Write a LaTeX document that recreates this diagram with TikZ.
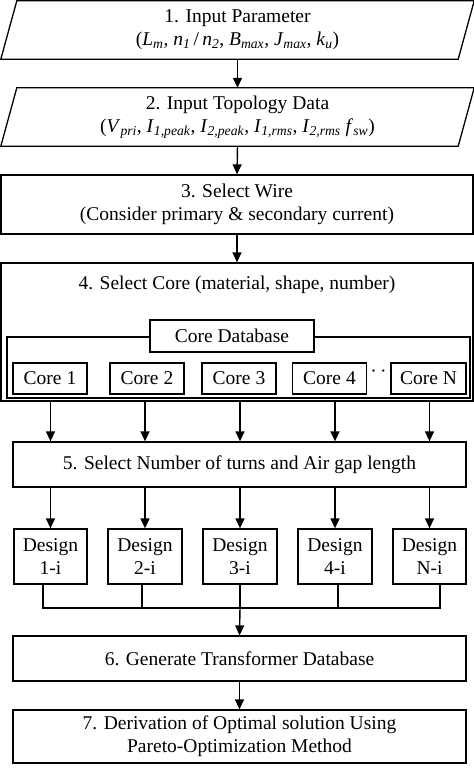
\documentclass[tikz,border=0pt]{standalone}
\usepackage{fontspec}
\setmainfont{Liberation Serif}
\usetikzlibrary{arrows.meta}

\newcommand{\varsub}[2]{\textit{#1}\textsubscript{\textit{#2}}}

\tikzset{
  stepbox/.style={draw=black, line width=1.3pt, align=center, inner sep=2pt},
  flowarrow/.style={-{Triangle[length=10pt,width=9pt]}, line width=1.4pt},
  flowline/.style={line width=1.4pt},
}

\begin{document}
\begin{tikzpicture}[x=1pt, y=-1pt, font=\fontsize{19.5}{23}\selectfont]
\useasboundingbox (0,0) rectangle (474,772);

% Input parameter
\path
(237.5,30) node [minimum width=457pt, minimum height=58pt, align=center] (param)
  {1. Input Parameter\\(\varsub{L}{m}, \varsub{n}{1}\,/\,\varsub{n}{2}, \varsub{B}{max}, \varsub{J}{max}, \varsub{k}{u})};
\draw[line width=1.3pt] ([xshift=8pt]param.north west) -- ([xshift=8pt]param.north east)
  -- ([xshift=-8pt]param.south east) -- ([xshift=-8pt]param.south west) -- cycle;

% Input topology data
\path
(237.5,117) node [minimum width=457pt, minimum height=58pt, align=center] (topo)
  {2. Input Topology Data\\(\varsub{V}{pri}, \varsub{I}{1,peak}, \varsub{I}{2,peak}, \varsub{I}{1,rms}, \varsub{I}{2,rms} \varsub{f}{sw})};
\draw[line width=1.3pt] ([xshift=8pt]topo.north west) -- ([xshift=8pt]topo.north east)
  -- ([xshift=-8pt]topo.south east) -- ([xshift=-8pt]topo.south west) -- cycle;

% Select wire
\path
(237,204.5) node [stepbox, minimum width=472pt, minimum height=59pt] (wire)
  {3. Select Wire\\(Consider primary \& secondary current)};

% Select core with the core database
\path
(237,332) node [stepbox, minimum width=472pt, minimum height=138pt] (core) {};
\path
(237,285) node (coretitle) {4. Select Core (material, shape, number)};
\path
(238.5,367.5) node [stepbox, minimum width=463pt, minimum height=61pt] (database) {};
\path
(232,336) node [stepbox, fill=white, minimum width=164pt, minimum height=32pt] (dblabel) {Core Database};

\path
(50,378.5) node [stepbox, minimum width=74pt, minimum height=31pt] (core1) {Core 1};
\path
(147,378.5) node [stepbox, minimum width=74pt, minimum height=31pt] (core2) {Core 2};
\path
(239,378.5) node [stepbox, minimum width=74pt, minimum height=31pt] (core3) {Core 3};
\path
(329.5,378.5) node [stepbox, minimum width=74pt, minimum height=31pt] (core4) {Core 4};
\path
(428.5,378.5) node [stepbox, minimum width=75pt, minimum height=31pt] (coreN) {Core N};
\path
(378.5,374) node [inner sep=0pt] (coredots) {\textperiodcentered\,\textperiodcentered};

% Number of turns and air gap
\path
(239.5,464.5) node [stepbox, minimum width=453pt, minimum height=45pt] (turns)
  {5. Select Number of turns and Air gap length};

% Designs
\path
(50.5,556.5) node [stepbox, minimum width=73pt, minimum height=55pt] (design1) {Design\\1-i};
\path
(145,556.5) node [stepbox, minimum width=74pt, minimum height=55pt] (design2) {Design\\2-i};
\path
(240,556.5) node [stepbox, minimum width=74pt, minimum height=55pt] (design3) {Design\\3-i};
\path
(335,556.5) node [stepbox, minimum width=74pt, minimum height=55pt] (design4) {Design\\4-i};
\path
(429.5,556.5) node [stepbox, minimum width=73pt, minimum height=55pt] (designN) {Design\\N-i};

\coordinate (join) at (240,608);

% Transformer database and optimization
\path
(239.5,658.5) node [stepbox, minimum width=453pt, minimum height=45pt] (transdb)
  {6. Generate Transformer Database};
\path
(239.5,736.5) node [stepbox, minimum width=453pt, minimum height=53pt] (pareto)
  {7. Derivation of Optimal solution Using\\Pareto-Optimization Method};

% Arrows
\draw[flowarrow] (param.south) -- (topo.north);
\draw[flowarrow] (topo.south) -- (wire.north);
\draw[flowarrow] (wire.south) -- (core.north);

\draw[flowarrow] (design1.north |- core.south) -- (design1.north |- turns.north);
\draw[flowarrow] (design2.north |- core.south) -- (design2.north |- turns.north);
\draw[flowarrow] (design3.north |- core.south) -- (design3.north |- turns.north);
\draw[flowarrow] (design4.north |- core.south) -- (design4.north |- turns.north);
\draw[flowarrow] (designN.north |- core.south) -- (designN.north |- turns.north);

\draw[flowarrow] (design1.north |- turns.south) -- (design1.north);
\draw[flowarrow] (design2.north |- turns.south) -- (design2.north);
\draw[flowarrow] (design3.north |- turns.south) -- (design3.north);
\draw[flowarrow] (design4.north |- turns.south) -- (design4.north);
\draw[flowarrow] (designN.north |- turns.south) -- (designN.north);

% Joining lines
\draw[flowline] ([xshift=-7.5pt]design1.south) |- (join);
\draw[flowline] ([xshift=-3pt]design2.south) |- (join);
\draw[flowline] (design3.south) -- (join);
\draw[flowline] ([xshift=3pt]design4.south) |- (join);
\draw[flowline] ([xshift=10.5pt]designN.south) |- (join);
\draw[flowarrow] (join) -- (transdb.north);
\draw[flowarrow] (transdb.south) -- (pareto.north);

\end{tikzpicture}
\end{document}
